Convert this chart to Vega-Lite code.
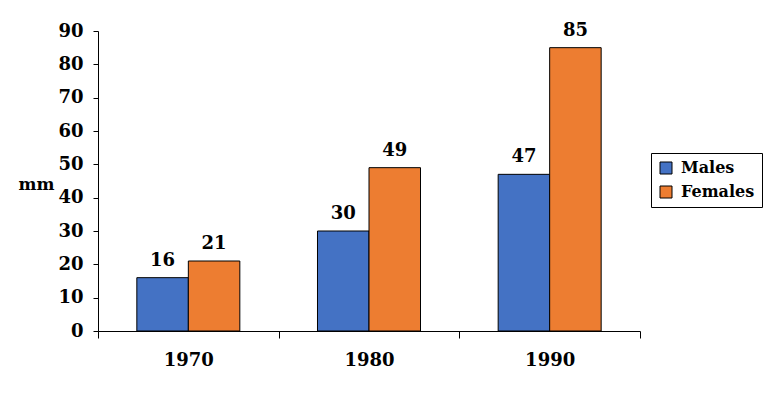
{
  "$schema": "https://vega.github.io/schema/vega-lite/v6.json",
  "width": 542,
  "height": 300,
  "autosize": {"type": "none"},
  "padding": {"left": 98, "top": 31, "right": 130, "bottom": 62},
  "background": "white",
  "config": {
    "view": {"stroke": null},
    "font": "DejaVu Serif",
    "axis": {"grid": false, "domainColor": "black", "tickColor": "black", "labelColor": "black", "titleColor": "black", "labelFontWeight": "bold", "titleFontWeight": "bold", "labelFont": "DejaVu Serif", "titleFont": "DejaVu Serif"},
    "legend": {"labelFont": "DejaVu Serif", "labelFontWeight": "bold"}
  },
  "data": {
    "values": [
      {"year": "1970", "sex": "Males", "value": 16},
      {"year": "1970", "sex": "Females", "value": 21},
      {"year": "1980", "sex": "Males", "value": 30},
      {"year": "1980", "sex": "Females", "value": 49},
      {"year": "1990", "sex": "Males", "value": 47},
      {"year": "1990", "sex": "Females", "value": 85}
    ]
  },
  "encoding": {
    "x": {
      "field": "year", "type": "nominal",
      "scale": {"paddingInner": 0, "paddingOuter": 0},
      "axis": {"title": null, "labelAngle": 0, "labelFontSize": 18, "tickSize": 7, "tickBand": "extent", "labelPadding": 13, "domainWidth": 1, "tickWidth": 1}
    },
    "xOffset": {
      "field": "sex", "type": "nominal", "sort": ["Males", "Females"],
      "scale": {"paddingInner": 0, "paddingOuter": 0.754}
    },
    "y": {
      "field": "value", "type": "quantitative",
      "scale": {"domain": [0, 90]},
      "axis": {"title": "mm", "titleAngle": 0, "titleAlign": "center", "titleBaseline": "middle", "titleX": -62, "titleY": 153, "titleFontSize": 17, "labelFontSize": 18, "values": [0,10,20,30,40,50,60,70,80,90], "labelOverlap": false, "tickSize": 5, "labelPadding": 10}
    }
  },
  "layer": [
    {
      "mark": {"type": "bar", "stroke": "black", "strokeWidth": 1},
      "encoding": {
        "color": {
          "field": "sex", "type": "nominal", "sort": ["Males", "Females"],
          "scale": {"domain": ["Males", "Females"], "range": ["#4472C4", "#ED7D31"]},
          "legend": {
            "title": null, "orient": "none", "legendX": 553, "legendY": 122,
            "labelFontSize": 16, "symbolType": "square", "symbolSize": 144,
            "symbolStrokeColor": "black", "symbolStrokeWidth": 1,
            "strokeColor": "black", "padding": 7, "rowPadding": 8,
            "labelOffset": 7, "labelColor": "black"
          }
        }
      }
    },
    {
      "mark": {"type": "text", "baseline": "bottom", "dy": -8, "fontSize": 18, "fontWeight": "bold", "font": "DejaVu Serif", "color": "black"},
      "encoding": {"text": {"field": "value", "type": "quantitative"}}
    }
  ]
}
